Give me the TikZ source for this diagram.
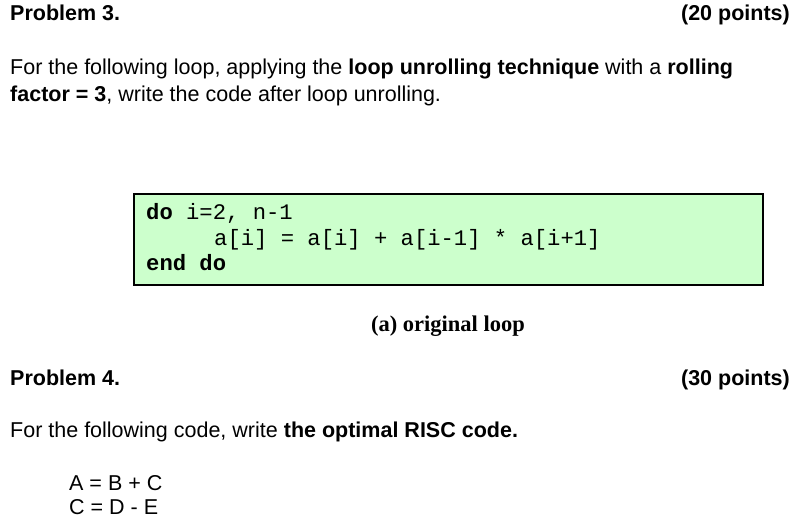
\documentclass[tikz,border=0pt]{standalone}
\usepackage{fontspec}
\setmainfont{Liberation Sans}
\newfontfamily\codefont{Liberation Mono}
\newfontfamily\capfont{Liberation Serif}
\usepackage{tikz}
\usetikzlibrary{positioning}
\definecolor{codegreen}{HTML}{CCFFCC}
\tikzset{
  txt/.style={anchor=base west, inner sep=0pt, font=\fontsize{21.5}{25}\selectfont},
  rtxt/.style={txt, anchor=base east},
  code/.style={anchor=base west, inner sep=0pt, font=\codefont\fontsize{22.2}{26}\selectfont},
}
\begin{document}
\begin{tikzpicture}[x=1pt, y=-1pt]
  \useasboundingbox (0,0) rectangle (803,531);
  % Problem 3
  \node[txt] (p3) at (10,20) {\bfseries Problem 3.};
  \node[rtxt] (pts3) at (790,20) {\bfseries (20 points)};
  \node[txt] (q1) at (10,74) {For the following loop, applying the \textbf{loop unrolling technique} with a \textbf{rolling}};
  \node[txt] (q2) at (10,101) {\textbf{factor = 3}, write the code after loop unrolling.};
  % Code box
  \draw[line width=2pt, fill=codegreen] (134,194) rectangle (763,285);
  \node[code] (c1) at (146,219) {\textbf{do} i=2, n-1};
  \node[code] (c2) at (214,245) {a[i] = a[i] + a[i-1] * a[i+1]};
  \node[code] (c3) at (146,270) {\textbf{end do}};
  \node[anchor=base, inner sep=0pt, font=\capfont\bfseries\fontsize{22.5}{26}\selectfont] (cap) at (448,331) {(a) original loop};
  % Problem 4
  \node[txt] (p4) at (10,385) {\bfseries Problem 4.};
  \node[rtxt] (pts4) at (790,385) {\bfseries (30 points)};
  \node[txt] (q3) at (10,437) {For the following code, write \textbf{the optimal RISC code.}};
  \node[txt] (e1) at (69,490) {A = B + C};
  \node[txt] (e2) at (69,514) {C = D - E};
\end{tikzpicture}
\end{document}
